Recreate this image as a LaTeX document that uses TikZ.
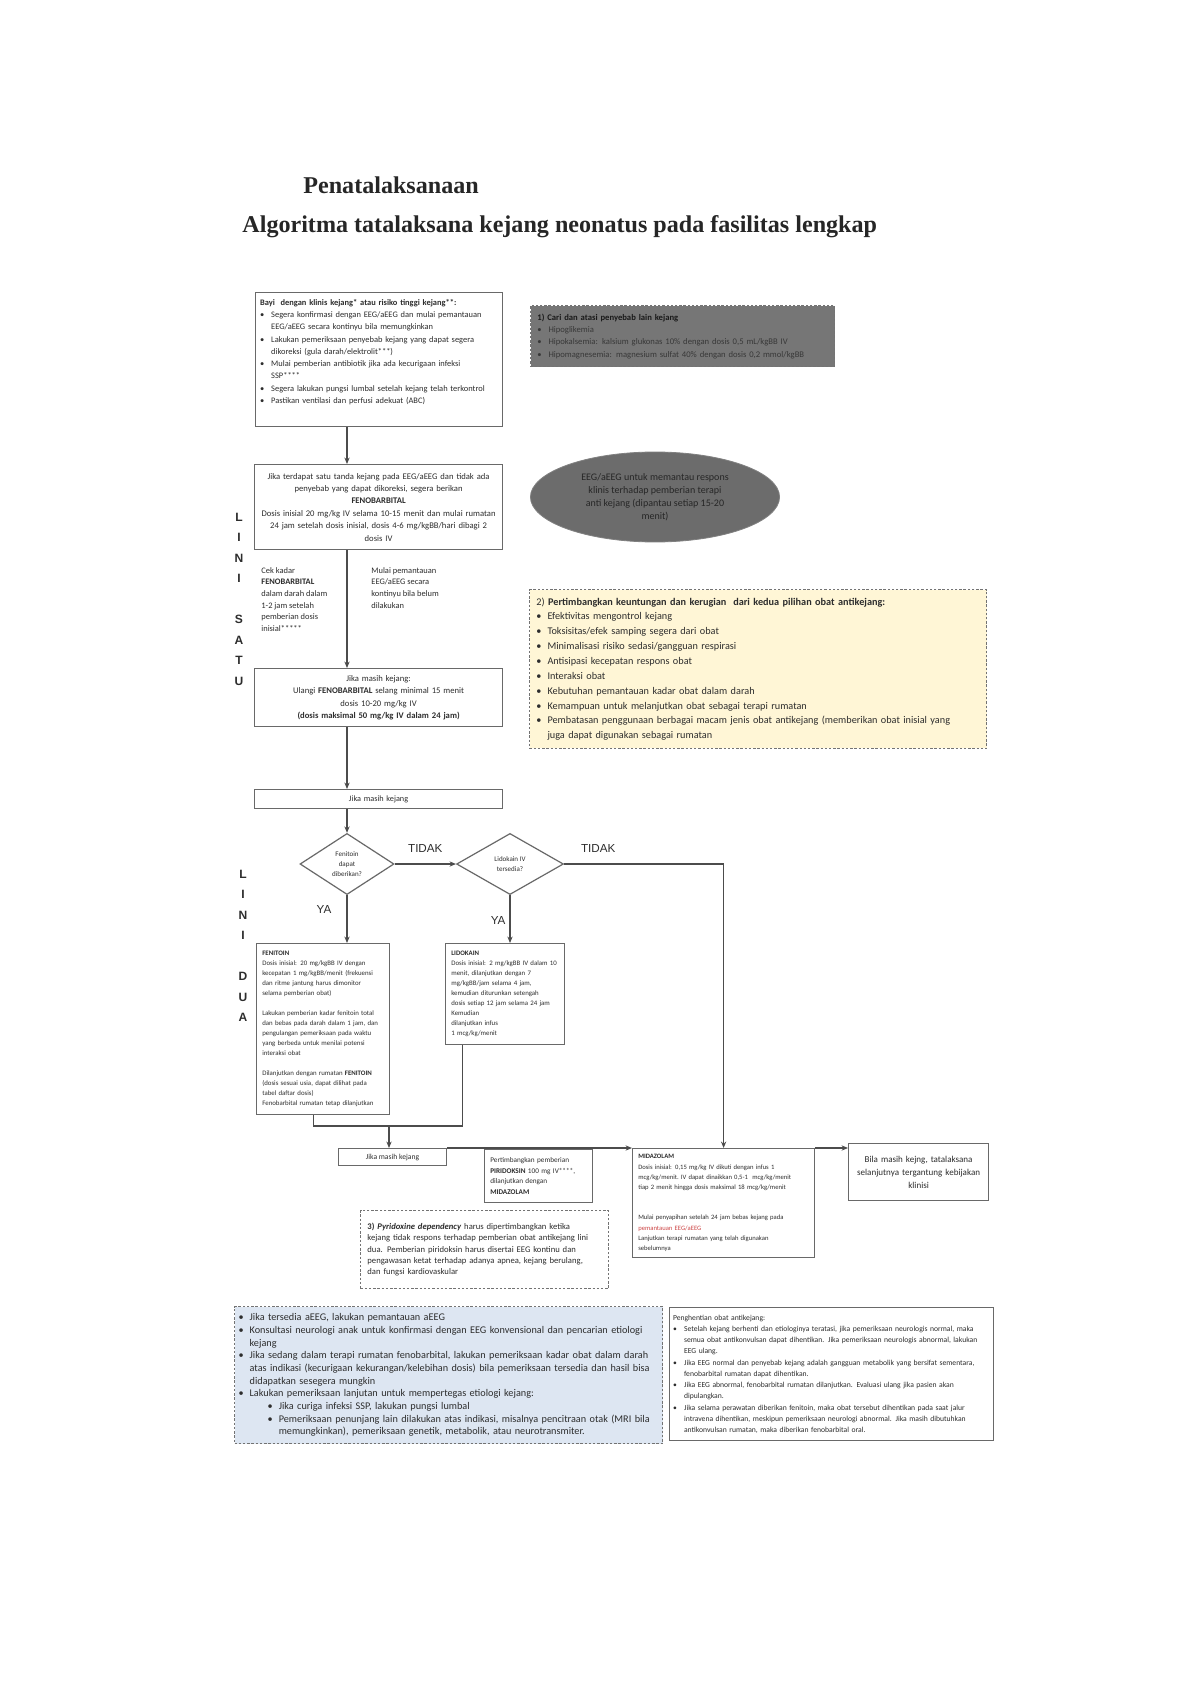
\documentclass[tikz,border=0pt]{standalone}
\usepackage{fontspec}
\setmainfont{Carlito}
\newfontfamily\headfont{Liberation Serif}
\newfontfamily\labelfont{Liberation Sans}
\usetikzlibrary{arrows.meta, positioning, shapes.geometric}
\definecolor{boxgray}{RGB}{105,105,105}
\definecolor{darktxt}{RGB}{45,45,45}
\definecolor{carigray}{RGB}{118,118,118}
\definecolor{ellgray}{RGB}{108,108,108}
\definecolor{noteyellow}{RGB}{255,246,214}
\definecolor{noteblue}{RGB}{221,230,242}
\definecolor{markred}{RGB}{205,70,70}
\newcommand{\bl}{\makebox[5.5pt][l]{\textbullet}}
\newcommand{\hb}{\hspace*{5.5pt}}

\begin{document}
\begin{tikzpicture}[x=0.0175cm, y=-0.0175cm,
  fbox/.style={draw=boxgray, line width=0.6pt, fill=white, text=darktxt, inner xsep=0.12cm, inner ysep=0pt, anchor=north west},
  dbox/.style={fbox, draw=black!55, dash pattern=on 1.2pt off 0.9pt},
  dia/.style={diamond, draw=boxgray, line width=0.6pt, fill=white, text=darktxt, inner sep=0pt, align=center, font=\fontsize{3.5}{5}\selectfont},
  conn/.style={draw=black!70, line width=0.55pt},
  arr/.style={conn, -{Stealth[length=3.2pt, width=2.6pt]}},
  lbl/.style={font=\labelfont\fontsize{5.8}{7}\selectfont, text=darktxt, inner sep=0pt},
  lini/.style={font=\labelfont\bfseries\fontsize{6}{10.2}\selectfont, text=darktxt, inner sep=0pt, align=center},
  note/.style={anchor=north west, inner sep=0pt, align=left, text=darktxt, font=\fontsize{4.2}{5.8}\selectfont},
  ttl/.style={anchor=west, inner sep=0pt, text=black!85, font=\headfont\bfseries\fontsize{12}{14}\selectfont},
  tA/.style={font=\fontsize{4.2}{6.1}\selectfont},
  tB/.style={font=\fontsize{4.3}{6.2}\selectfont},
  tS/.style={font=\fontsize{3.4}{5}\selectfont}
]
\fill[white] (0,0) rectangle (1200,1696);
\useasboundingbox (0,0) rectangle (1200,1696);

% judul
\node[ttl] (ttl1) at (303,185) {Penatalaksanaan};
\node[ttl] (ttl2) at (242,227) {Algoritma tatalaksana kejang neonatus pada fasilitas lengkap};

% lini satu
\node[fbox, tA, inner xsep=0.08cm, text width=4.16cm, minimum height=2.345cm, align=left] (bayi) at (255,292) {
  \textbf{Bayi\ \ dengan klinis kejang* atau risiko tinggi kejang**:}\\
  \bl Segera konfirmasi dengan EEG/aEEG dan mulai pemantauan\\
  \hb EEG/aEEG secara kontinyu bila memungkinkan\\
  \bl Lakukan pemeriksaan penyebab kejang yang dapat segera\\
  \hb dikoreksi (gula darah/elektrolit***)\\
  \bl Mulai pemberian antibiotik jika ada kecurigaan infeksi\\
  \hb SSP****\\
  \bl Segera lakukan pungsi lumbal setelah kejang telah terkontrol\\
  \bl Pastikan ventilasi dan perfusi adekuat (ABC)\\[2pt]
  \mbox{}
};
\node[fbox, tB, inner xsep=0.05cm, text width=4.24cm, minimum height=1.49cm, align=center] (feno) at (254,464) {
  Jika terdapat satu tanda kejang pada EEG/aEEG dan tidak ada\\
  penyebab yang dapat dikoreksi, segera berikan\\
  \textbf{FENOBARBITAL}\\
  Dosis inisial 20 mg/kg IV selama 10-15 menit dan mulai rumatan\\
  24 jam setelah dosis inisial, dosis 4-6 mg/kgBB/hari dibagi 2\\
  dosis IV
};
\node[note] (cek) at (261,567) {Cek kadar\\ \textbf{FENOBARBITAL}\\ dalam darah dalam\\ 1-2 jam setelah\\ pemberian dosis\\ inisial*****};
\node[note] (mulai) at (371,567) {Mulai pemantauan\\ EEG/aEEG secara\\ kontinyu bila belum\\ dilakukan};
\node[fbox, tB, inner xsep=0.05cm, text width=4.24cm, minimum height=1.015cm, align=center] (ulang) at (254,668) {
  Jika masih kejang:\\
  Ulangi \textbf{FENOBARBITAL} selang minimal 15 menit\\
  dosis 10-20 mg/kg IV\\
  \textbf{(dosis maksimal 50 mg/kg IV dalam 24 jam)}
};
\node[fbox, font=\fontsize{4.1}{5}\selectfont, text width=4.10cm, minimum height=0.33cm, align=center] (masih1) at (254,789) {Jika masih kejang};

% catatan kanan atas
\node[dbox, fill=carigray, text=black!90, font=\fontsize{4.3}{6.1}\selectfont, text width=5.085cm, minimum height=1.07cm, align=left] (cari) at (530,305) {
  \textbf{1) Cari dan atasi penyebab lain kejang}\\
  \textcolor{black!78}{\bl Hipoglikemia}\\
  \textcolor{black!78}{\bl Hipokalsemia: kalsium glukonas 10\% dengan dosis 0,5 mL/kgBB IV}\\
  \textcolor{black!78}{\bl Hipomagnesemia: magnesium sulfat 40\% dengan dosis 0,2 mmol/kgBB}
};
\node[ellipse, draw=black!50, fill=ellgray, text=black!85, minimum width=4.36cm, minimum height=1.575cm, inner sep=0pt, align=center, font=\fontsize{5}{6.5}\selectfont] (eeg) at (655,497) {
  EEG/aEEG untuk memantau respons\\
  klinis terhadap pemberian terapi\\
  anti kejang (dipantau setiap 15-20\\
  menit)
};
\node[dbox, fill=noteyellow, font=\fontsize{5.1}{7.4}\selectfont, text width=7.76cm, minimum height=2.78cm, align=left] (timbang) at (529,589) {
  2) \textbf{Pertimbangkan keuntungan dan kerugian\ \ dari kedua pilihan obat antikejang:}\\
  \bl Efektivitas mengontrol kejang\\
  \bl Toksisitas/efek samping segera dari obat\\
  \bl Minimalisasi risiko sedasi/gangguan respirasi\\
  \bl Antisipasi kecepatan respons obat\\
  \bl Interaksi obat\\
  \bl Kebutuhan pemantauan kadar obat dalam darah\\
  \bl Kemampuan untuk melanjutkan obat sebagai terapi rumatan\\
  \bl Pembatasan penggunaan berbagai macam jenis obat antikejang (memberikan obat inisial yang\\
  \hb juga dapat digunakan sebagai rumatan
};

% lini dua
\node[dia, minimum width=1.645cm, minimum height=1.07cm] (dia1) at (347,864) {Fenitoin\\dapat\\diberikan?};
\node[dia, minimum width=1.87cm, minimum height=1.07cm] (dia2) at (510,864) {Lidokain IV\\tersedia?};

\node[fbox, tS, inner xsep=0.1cm, text width=2.13cm, minimum height=2.99cm, align=left] (fen) at (256,943) {
  \textbf{FENITOIN}\\
  Dosis inisial: 20 mg/kgBB IV dengan\\
  kecepatan 1 mg/kgBB/menit (frekuensi\\
  dan ritme jantung harus dimonitor\\
  selama pemberian obat)\\[5pt]
  Lakukan pemberian kadar fenitoin total\\
  dan bebas pada darah dalam 1 jam, dan\\
  pengulangan pemeriksaan pada waktu\\
  yang berbeda untuk menilai potensi\\
  interaksi obat\\[5pt]
  Dilanjutkan dengan rumatan \textbf{FENITOIN}\\
  (dosis sesuai usia, dapat dilihat pada\\
  tabel daftar dosis)\\
  Fenobarbital rumatan tetap dilanjutkan
};
\node[fbox, tS, inner xsep=0.1cm, text width=1.88cm, minimum height=1.77cm, align=left] (lid) at (445,943) {
  \textbf{LIDOKAIN}\\
  Dosis inisial: 2 mg/kgBB IV dalam 10\\
  menit, dilanjutkan dengan 7\\
  mg/kgBB/jam selama 4 jam,\\
  kemudian diturunkan setengah\\
  dosis setiap 12 jam selama 24 jam\\
  Kemudian\\
  dilanjutkan infus\\
  1 mcg/kg/menit
};
\node[fbox, font=\fontsize{3.8}{5}\selectfont, inner xsep=0pt, minimum width=1.89cm, minimum height=0.30cm, align=center] (masih2) at (338,1148) {Jika masih kejang};
\node[fbox, font=\fontsize{3.6}{5.3}\selectfont, inner xsep=0.1cm, text width=1.69cm, minimum height=0.93cm, align=left] (piri) at (484,1149) {
  Pertimbangkan pemberian\\
  \textbf{PIRIDOKSIN} 100 mg IV****,\\
  dilanjutkan dengan\\
  \textbf{MIDAZOLAM}
};
\node[fbox, font=\fontsize{3.3}{5.1}\selectfont, inner xsep=0.1cm, text width=2.985cm, minimum height=1.91cm, align=left] (mida) at (632,1148) {
  \textbf{MIDAZOLAM}\\
  Dosis inisial: 0,15 mg/kg IV dikuti dengan infus 1\\
  mcg/kg/menit.\ IV dapat dinaikkan 0,5-1\ \ mcg/kg/menit\\
  tiap 2 menit hingga dosis maksimal 18 mcg/kg/menit\\[10pt]
  Mulai penyapihan setelah 24 jam bebas kejang pada\\
  \textcolor{markred}{pemantauan EEG/aEEG}\\
  Lanjutkan terapi rumatan yang telah digunakan\\
  sebelumnya
};
\node[fbox, font=\fontsize{4.5}{6.6}\selectfont, inner xsep=0.1cm, text width=2.25cm, minimum height=1.0cm, align=center] (bila) at (848,1143) {
  Bila masih kejng, tatalaksana\\
  selanjutnya tergantung kebijakan\\
  klinisi
};
\node[dbox, font=\fontsize{4.3}{5.7}\selectfont, text width=4.10cm, minimum height=1.365cm, align=left] (piridep) at (360,1210) {
  \textbf{3) \textit{Pyridoxine dependency}} harus dipertimbangkan ketika\\
  kejang tidak respons terhadap pemberian obat antikejang lini\\
  dua. Pemberian piridoksin harus disertai EEG kontinu dan\\
  pengawasan ketat terhadap adanya apnea, kejang berulang,\\
  dan fungsi kardiovaskular
};

% catatan bawah
\node[dbox, fill=noteblue, font=\fontsize{5.1}{6.3}\selectfont, inner xsep=0.07cm, text width=7.35cm, minimum height=2.40cm, align=left] (lanjut) at (234,1306) {
  \bl Jika tersedia aEEG, lakukan pemantauan aEEG\\
  \bl Konsultasi neurologi anak untuk konfirmasi dengan EEG konvensional dan pencarian etiologi\\
  \hb kejang\\
  \bl Jika sedang dalam terapi rumatan fenobarbital, lakukan pemeriksaan kadar obat dalam darah\\
  \hb atas indikasi (kecurigaan kekurangan/kelebihan dosis) bila pemeriksaan tersedia dan hasil bisa\\
  \hb didapatkan sesegera mungkin\\
  \bl Lakukan pemeriksaan lanjutan untuk mempertegas etiologi kejang:\\
  \hspace*{14.5pt}\bl Jika curiga infeksi SSP, lakukan pungsi lumbal\\
  \hspace*{14.5pt}\bl Pemeriksaan penunjang lain dilakukan atas indikasi, misalnya pencitraan otak (MRI bila\\
  \hspace*{20pt}memungkinkan), pemeriksaan genetik, metabolik, atau neurotransmiter.
};
\node[fbox, font=\fontsize{3.8}{5.6}\selectfont, inner xsep=0.06cm, text width=5.55cm, minimum height=2.33cm, align=left] (henti) at (669,1307) {
  Penghentian obat antikejang:\\
  \bl Setelah kejang berhenti dan etiologinya teratasi, jika pemeriksaan neurologis normal, maka\\
  \hb semua obat antikonvulsan dapat dihentikan. Jika pemeriksaan neurologis abnormal, lakukan\\
  \hb EEG ulang.\\
  \bl Jika EEG normal dan penyebab kejang adalah gangguan metabolik yang bersifat sementara,\\
  \hb fenobarbital rumatan dapat dihentikan.\\
  \bl Jika EEG abnormal, fenobarbital rumatan dilanjutkan. Evaluasi ulang jika pasien akan\\
  \hb dipulangkan.\\
  \bl Jika selama perawatan diberikan fenitoin, maka obat tersebut dihentikan pada saat jalur\\
  \hb intravena dihentikan, meskipun pemeriksaan neurologi abnormal. Jika masih dibutuhkan\\
  \hb antikonvulsan rumatan, maka diberikan fenobarbital oral.
};

% label lini
\node[lini] (satu) at (239,599) {L\\I\\N\\I\\ \\S\\A\\T\\U};
\node[lini] (dua) at (243,946) {L\\I\\N\\I\\ \\D\\U\\A};

% alur
\draw[arr] (bayi.south -| dia1.north) -- (feno.north -| dia1.north);
\draw[arr] (feno.south -| dia1.north) -- (ulang.north -| dia1.north);
\draw[arr] (ulang.south -| dia1.north) -- (masih1.north -| dia1.north);
\draw[arr] (masih1.south -| dia1.north) -- (dia1.north);
\draw[arr] (dia1.east) -- node[lbl, above=5.5pt] {TIDAK} (dia2.west);
\draw[arr] (dia2.east) -| node[lbl, pos=0.107, above=5.5pt] {TIDAK} (mida.north);
\draw[arr] (dia1.south) -- node[lbl, pos=0.3, left=7.5pt] {YA} (fen.north -| dia1.south);
\draw[arr] (dia2.south) -- node[lbl, pos=0.53, left=2pt] {YA} (lid.north -| dia2.south);
\coordinate (gabung) at (389,1126);
\draw[conn] ([xshift=-0.166cm]fen.south) |- (gabung) -| ([xshift=-0.744cm]lid.south);
\draw[arr] (gabung) -- (gabung |- masih2.north);
\draw[arr] (masih2.north east) -- (mida.north west);
\draw[arr] (mida.north east) -- (mida.north east -| bila.west);
\end{tikzpicture}
\end{document}
